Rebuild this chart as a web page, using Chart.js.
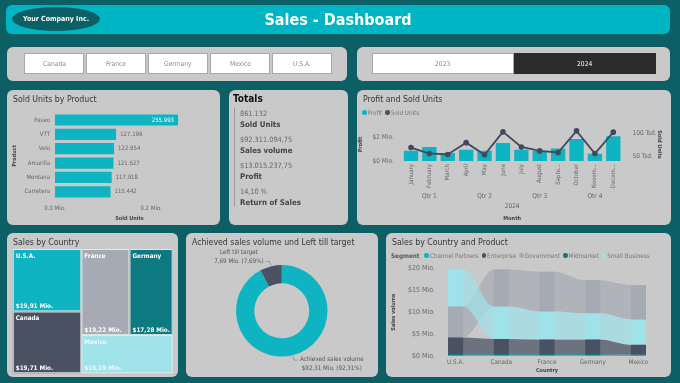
<!DOCTYPE html>
<html>
<head>
<meta charset="utf-8">
<script src="https://cdn.jsdelivr.net/npm/chart.js@4.4.0/dist/chart.umd.min.js"></script>
<style>
  body { margin: 0; width: 680px; height: 383px; background: #0c5f64; overflow: hidden; position: relative;
         font-family: "DejaVu Sans Condensed", "DejaVu Sans", sans-serif; }
  .box { position: absolute; background: #c9c9c9; border-radius: 6px; overflow: hidden; }
  .ttl { position: absolute; left: 5.5px; top: 4px; line-height: 10px; font-size: 8.7px; color: #363636; white-space: nowrap; z-index: 2; will-change: transform; }
  .cv { position: absolute; left: 0; top: 0; right: 0; bottom: 0; }
  .btn { position: absolute; top: 6px; height: 21px; background: #fff; border: 1.5px solid #a8a8a8; box-sizing: border-box;
         font-size: 6.7px; color: #8a8a8a; display: flex; align-items: center; justify-content: center; }
  .btn span, .gs { will-change: transform; }
  .lg { position: absolute; display: flex; align-items: center; font-size: 6.3px; color: #777; white-space: nowrap; z-index: 2; will-change: transform; }
  .lg i { display: inline-block; width: 4.5px; height: 4.5px; border-radius: 50%; margin: 0 1px 0 3px; }
  .tot { position: absolute; left: 11px; font-size: 7.3px; color: #666; white-space: nowrap; will-change: transform; }
  .totb { position: absolute; left: 11px; font-size: 7.8px; color: #444; font-weight: bold; white-space: nowrap; will-change: transform; }
</style>
</head>
<body>

<div class="box" style="left:6px;top:5px;width:664px;height:29px;background:#00b5c3;">
  <div style="position:absolute;left:6px;top:2px;width:88px;height:24px;border-radius:50%;background:#0c5f64;color:#fff;font-size:7px;font-weight:bold;display:flex;align-items:center;justify-content:center;"><span class="gs">Your Company Inc.</span></div>
  <div class="gs" style="position:absolute;left:0;right:0;top:0;height:29px;line-height:29px;text-align:center;color:#fff;font-size:16px;font-weight:bold;">Sales - Dashboard</div>
</div>

<div class="box" id="slCountry" style="left:7px;top:47px;width:340px;height:34px;"></div>
<div class="box" id="slYear" style="left:357px;top:47px;width:313px;height:34px;"></div>

<div class="box" style="left:7px;top:90px;width:213px;height:135px;">
  <div class="ttl">Sold Units by Product</div>
  <div class="cv"><canvas id="cUnits"></canvas></div>
</div>

<div class="box" id="totals" style="left:229px;top:90px;width:119px;height:135px;">
  <div class="gs" style="position:absolute;left:4px;top:3px;font-size:10px;font-weight:bold;color:#111;line-height:12px;">Totals</div>
  <div style="position:absolute;left:5px;top:18px;width:1px;height:99px;background:#9a9a9a;"></div>
</div>

<div class="box" style="left:357px;top:90px;width:314px;height:135px;">
  <div class="ttl">Profit and Sold Units</div>
  <div class="lg" id="lgProfit" style="left:2px;top:18px;height:9px;"></div>
  <div class="cv"><canvas id="cProfit"></canvas></div>
</div>

<div class="box" style="left:7px;top:233px;width:171px;height:144px;">
  <div class="ttl">Sales by Country</div>
  <div class="cv"><canvas id="cTree"></canvas></div>
</div>

<div class="box" style="left:186px;top:233px;width:192px;height:144px;">
  <div class="ttl">Achieved sales volume und Left till target</div>
  <div class="cv"><canvas id="cDonut"></canvas></div>
</div>

<div class="box" style="left:386px;top:233px;width:285px;height:144px;">
  <div class="ttl">Sales by Country and Product</div>
  <div class="lg" id="lgSeg" style="left:5px;top:18px;height:9px;"></div>
  <div class="cv"><canvas id="cRibbon"></canvas></div>
</div>

<script>
// ---- data ----
const countries = ['U.S.A.', 'Canada', 'France', 'Germany', 'Mexico'];
const years = ['2023', '2024'];
const selectedYear = '2024';

const products = ['Paseo', 'VTT', 'Velo', 'Amarilla', 'Montana', 'Carretera'];
const soldUnitsByProduct = [255993, 127199, 122954, 121627, 117918, 115442];
const unitsAxisTicks = [0, 200000];

const totalLabels = ['Sold Units', 'Sales volume', 'Profit', 'Return of Sales'];
const totalValues = ['861.132', '$92.311.094,75', '$13.015.237,75', '14,10 %'];

const months = ['January', 'February', 'March', 'April', 'May', 'June', 'July', 'August', 'Septe...', 'October', 'Novem...', 'Decem...'];
const quarters = ['Qtr 1', 'Qtr 2', 'Qtr 3', 'Qtr 4'];
const profitByMonth = [870000, 1180000, 680000, 960000, 870000, 1520000, 960000, 850000, 1070000, 1860000, 620000, 2110000];
const unitsByMonth = [69300, 56400, 54300, 80000, 53600, 103600, 70700, 62000, 58600, 105700, 56400, 102900];
const profitTicks = [0, 2000000];
const unitTicks = [50000, 100000];

// Mio. $, same order as countries
const salesByCountry = [19.91, 19.71, 19.22, 17.28, 16.19];

const achievedSales = 92.31;
const leftTillTarget = 7.69;

const segments = ['Channel Partners', 'Enterprise', 'Government', 'Midmarket', 'Small Business'];
const segChannelPartners = [0.20, 0.20, 0.20, 0.20, 0.15];
const segEnterprise      = [3.75, 3.40, 3.30, 3.30, 2.20];
const segGovernment      = [7.10, 8.41, 9.07, 7.53, 7.84];
const segMidmarket       = [0.25, 0.25, 0.25, 0.25, 0.20];
const segSmallBusiness   = [8.60, 7.45, 6.40, 6.00, 5.80];
const ribbonTicks = [0, 5, 10, 15, 20];

// ---- colours ----
const cyan = '#0fb4c3';
const slate = '#4a5163';
const grayc = '#a6aab4';
const teal = '#0d7a82';
const light = '#9fe2e9';
const segColors = [cyan, slate, grayc, teal, light];
const treeColors = [cyan, slate, grayc, teal, light];

Chart.defaults.font.family = '"DejaVu Sans Condensed", "DejaVu Sans", sans-serif';
Chart.defaults.font.size = 6;
Chart.defaults.color = '#666';

function dots(v) { return String(Math.round(v)).replace(/\B(?=(\d{3})+(?!\d))/g, '.'); }
function mio(v) { return '$' + v.toFixed(2).replace('.', ',') + ' Mio.'; }
function noGrid() { return { display: false, drawTicks: false }; }

// ---- slicers ----
const slC = document.getElementById('slCountry');
countries.slice().sort().forEach((c, i) => {
  const b = document.createElement('div');
  b.className = 'btn';
  b.style.left = (17 + i * 62) + 'px';
  b.style.width = '60px';
  b.innerHTML = '<span>' + c + '</span>';
  slC.appendChild(b);
});
const slY = document.getElementById('slYear');
years.forEach((y, i) => {
  const b = document.createElement('div');
  b.className = 'btn';
  b.style.left = (15 + i * 142) + 'px';
  b.style.width = '142px';
  b.innerHTML = '<span>' + y + '</span>';
  if (y === selectedYear) { b.style.background = '#2b2b2b'; b.style.color = '#fff'; b.style.borderColor = '#2b2b2b'; }
  slY.appendChild(b);
});

// ---- totals ----
const tot = document.getElementById('totals');
totalLabels.forEach((t, i) => {
  const v = document.createElement('div');
  v.className = 'tot'; v.style.top = (19 + i * 26) + 'px'; v.textContent = totalValues[i];
  const l = document.createElement('div');
  l.className = 'totb'; l.style.top = (29.5 + i * 26) + 'px'; l.textContent = t;
  tot.appendChild(v); tot.appendChild(l);
});

// ---- legends ----
document.getElementById('lgProfit').innerHTML =
  '<i style="background:' + cyan + '"></i>Profit<i style="background:' + slate + '"></i>Sold Units';
document.getElementById('lgSeg').innerHTML = '<b style="color:#555;margin-right:2px">Segment</b>' +
  segments.map((s, i) => '<i style="background:' + segColors[i] + '"></i>' + s).join('');

// ---- sold units by product ----
const barLabels = {
  id: 'barLabels',
  afterDatasetsDraw(chart) {
    const ctx = chart.ctx;
    ctx.save();
    ctx.font = '6px "DejaVu Sans Condensed"';
    ctx.textBaseline = 'middle';
    chart.getDatasetMeta(0).data.forEach((bar, i) => {
      const txt = dots(soldUnitsByProduct[i]);
      if (bar.x - bar.base > 90) {
        ctx.fillStyle = '#fff'; ctx.textAlign = 'right'; ctx.fillText(txt, bar.x - 4, bar.y);
      } else {
        ctx.fillStyle = '#666'; ctx.textAlign = 'left'; ctx.fillText(txt, bar.x + 4, bar.y);
      }
    });
    ctx.restore();
  }
};

new Chart(document.getElementById('cUnits'), {
  type: 'bar',
  data: { labels: products, datasets: [{ data: soldUnitsByProduct, backgroundColor: cyan, barPercentage: 0.78, categoryPercentage: 1 }] },
  options: {
    indexAxis: 'y', animation: false, responsive: true, maintainAspectRatio: false,
    layout: { padding: { left: 4, right: 16, top: 22.8, bottom: 3 } },
    plugins: { legend: { display: false }, tooltip: { enabled: false } },
    scales: {
      x: {
        min: 0, max: 310000, grid: noGrid(), border: { display: false },
        afterBuildTicks(s) { s.ticks = unitsAxisTicks.map(v => ({ value: v })); },
        ticks: { padding: 6, callback: v => (v / 1e6).toFixed(1) + ' Mio.' },
        title: { display: true, text: 'Sold Units', font: { size: 5.5, weight: 'bold' }, color: '#444', padding: 0 },
        afterFit(s) { s.height = 23; }
      },
      y: {
        grid: noGrid(), border: { display: false },
        ticks: { padding: 5 },
        title: { display: true, text: 'Product', font: { size: 5.5, weight: 'bold' }, color: '#444', padding: 0 },
        afterFit(s) { s.width = 44; }
      }
    }
  },
  plugins: [barLabels]
});

// ---- profit and sold units ----
new Chart(document.getElementById('cProfit'), {
  type: 'bar',
  data: {
    labels: months,
    datasets: [
      { type: 'line', label: 'Sold Units', data: unitsByMonth, yAxisID: 'y2', borderColor: '#414a5c', backgroundColor: '#414a5c',
        borderWidth: 1.8, pointRadius: 2.8, pointBorderWidth: 0, order: 0 },
      { label: 'Profit', data: profitByMonth, yAxisID: 'y', backgroundColor: cyan, barPercentage: 0.78, categoryPercentage: 1, order: 1 }
    ]
  },
  options: {
    animation: false, responsive: true, maintainAspectRatio: false,
    layout: { padding: { left: 0, right: 8.5, top: 38, bottom: 3 } },
    plugins: { legend: { display: false }, tooltip: { enabled: false } },
    scales: {
      x: { position: 'bottom', weight: 0, grid: noGrid(), border: { display: false },
           ticks: { minRotation: 90, maxRotation: 90, autoSkip: false, padding: 3 },
           afterFit(s) { s.height = 31; } },
      xq: { type: 'category', labels: quarters, offset: true, position: 'bottom', weight: 1, grid: noGrid(), border: { display: false },
            ticks: { padding: 0, font: { size: 6.5 } }, afterFit(s) { s.height = 10; } },
      xy: { type: 'category', labels: [selectedYear], offset: true, position: 'bottom', weight: 2, grid: noGrid(), border: { display: false },
            ticks: { padding: 0, font: { size: 6.5 } },
            title: { display: true, text: 'Month', font: { size: 5.5, weight: 'bold' }, color: '#444', padding: 0 },
            afterFit(s) { s.height = 20; } },
      y: { position: 'left', min: 0, max: 2800000, grid: noGrid(), border: { display: false },
           afterBuildTicks(s) { s.ticks = profitTicks.map(v => ({ value: v })); },
           ticks: { padding: 8, font: { size: 6.5 }, callback: v => '$' + (v / 1e6) + ' Mio.' },
           title: { display: true, text: 'Profit', font: { size: 5.5, weight: 'bold' }, color: '#444', padding: 0 },
           afterFit(s) { s.width = 44.8; } },
      y2: { position: 'right', min: 40000, max: 112000, grid: noGrid(), border: { display: false },
            afterBuildTicks(s) { s.ticks = unitTicks.map(v => ({ value: v })); },
            ticks: { padding: 10, font: { size: 6.5 }, callback: v => (v / 1000) + ' Tsd.' },
            title: { display: true, text: 'Sold Units', font: { size: 5.5, weight: 'bold' }, color: '#444', padding: 0 },
            afterFit(s) { s.width = 40; } }
    }
  }
});

// ---- treemap (sales by country) ----
function treeCells(v) {
  const total = v.reduce((a, b) => a + b, 0);
  const lw = (v[0] + v[1]) / total;
  const h0 = v[0] / (v[0] + v[1]);
  const th = (v[2] + v[3]) / (v[2] + v[3] + v[4]);
  const fw = lw + (1 - lw) * v[2] / (v[2] + v[3]);
  return [
    [0, lw, 0, h0], [0, lw, h0, 1], [lw, fw, 0, th], [fw, 1, 0, th], [lw, 1, th, 1]
  ];
}
const treePlugin = {
  id: 'tree',
  afterDatasetsDraw(chart) {
    const { ctx, scales: { x, y } } = chart;
    ctx.save();
    treeCells(salesByCountry).forEach((c, i) => {
      const x0 = x.getPixelForValue(c[0]), x1 = x.getPixelForValue(c[1]);
      const y0 = y.getPixelForValue(c[2]), y1 = y.getPixelForValue(c[3]);
      ctx.fillStyle = treeColors[i];
      ctx.fillRect(x0, y0, x1 - x0, y1 - y0);
      ctx.strokeStyle = '#e8e8e8'; ctx.lineWidth = 1;
      ctx.strokeRect(x0 + 0.5, y0 + 0.5, x1 - x0 - 1, y1 - y0 - 1);
      ctx.fillStyle = i === 4 ? '#eefbfc' : '#fff';
      ctx.font = 'bold 6.3px "DejaVu Sans Condensed"';
      ctx.textAlign = 'left'; ctx.textBaseline = 'middle';
      ctx.fillText(countries[i], x0 + 3, y0 + 7);
      ctx.fillText(mio(salesByCountry[i]), x0 + 3, y1 - 5);
    });
    ctx.restore();
  }
};
new Chart(document.getElementById('cTree'), {
  type: 'scatter',
  data: { datasets: [{ data: [] }] },
  options: {
    animation: false, responsive: true, maintainAspectRatio: false,
    layout: { padding: { left: 5.7, right: 5.3, top: 16, bottom: 3.7 } },
    plugins: { legend: { display: false }, tooltip: { enabled: false } },
    scales: { x: { display: false, min: 0, max: 1 }, y: { display: false, min: 0, max: 1, reverse: true } }
  },
  plugins: [treePlugin]
});

// ---- donut ----
const donutLabels = {
  id: 'donutLabels',
  afterDatasetsDraw(chart) {
    const ctx = chart.ctx;
    const texts = [
      ['Achieved sales volume', mio(achievedSales) + ' (' + achievedSales.toFixed(2).replace('.', ',') + '%)'],
      ['Left till target', leftTillTarget.toFixed(2).replace('.', ',') + ' Mio. (' + leftTillTarget.toFixed(2).replace('.', ',') + '%)']
    ];
    ctx.save();
    ctx.font = '6.2px "DejaVu Sans Condensed"';
    ctx.textBaseline = 'middle';
    chart.getDatasetMeta(0).data.forEach((arc, i) => {
      const mid = (arc.startAngle + arc.endAngle) / 2;
      const cs = Math.cos(mid), sn = Math.sin(mid);
      const px = arc.x + cs * (arc.outerRadius + 1), py = arc.y + sn * (arc.outerRadius + 1);
      const ex = px + cs * 4, ey = py + sn * 4;
      const dir = cs >= 0 ? 1 : -1;
      const hx = ex + dir * 4;
      ctx.strokeStyle = '#888'; ctx.lineWidth = 0.7;
      ctx.beginPath(); ctx.moveTo(px, py); ctx.lineTo(ex, ey); ctx.lineTo(hx, ey); ctx.stroke();
      const w = Math.max(...texts[i].map(t => ctx.measureText(t).width));
      const cx = hx + dir * (2 + w / 2);
      const l1 = sn < 0 ? ey - 9 : ey - 1;
      ctx.fillStyle = '#555'; ctx.textAlign = 'center';
      ctx.fillText(texts[i][0], cx, l1);
      ctx.fillText(texts[i][1], cx, l1 + 9);
    });
    ctx.restore();
  }
};
new Chart(document.getElementById('cDonut'), {
  type: 'doughnut',
  data: { labels: ['Achieved sales volume', 'Left till target'],
          datasets: [{ data: [achievedSales, leftTillTarget], backgroundColor: [cyan, slate], borderWidth: 0 }] },
  options: {
    animation: false, responsive: true, maintainAspectRatio: false, cutout: '60%',
    layout: { padding: { left: 50, right: 50.5, top: 32, bottom: 20.4 } },
    plugins: { legend: { display: false }, tooltip: { enabled: false } }
  },
  plugins: [donutLabels]
});

// ---- ribbon chart (sales by country and product) ----
const segValues = [segChannelPartners, segEnterprise, segGovernment, segMidmarket, segSmallBusiness];
const lo = segValues.map(() => []), hi = segValues.map(() => []);
countries.forEach((c, i) => {
  const order = segValues.map((v, s) => s).sort((a, b) => segValues[a][i] - segValues[b][i]);
  let acc = 0;
  order.forEach(s => { lo[s][i] = acc; acc += segValues[s][i]; hi[s][i] = acc; });
});
const hw = 0.165;
function edgePoints(arr) {
  const pts = [];
  arr.forEach((v, i) => { pts.push({ x: i - hw, y: v }); pts.push({ x: i + hw, y: v }); });
  return pts;
}
function alpha(hex, a) {
  const n = parseInt(hex.slice(1), 16);
  return 'rgba(' + (n >> 16) + ',' + ((n >> 8) & 255) + ',' + (n & 255) + ',' + a + ')';
}
const ribbonSets = [];
const ribbonDraw = [4, 2, 1, 3, 0];
ribbonDraw.forEach(s => {
  ribbonSets.push({ type: 'line', data: edgePoints(lo[s]), borderWidth: 0, pointRadius: 0, fill: false,
                    cubicInterpolationMode: 'monotone', order: 1 });
  ribbonSets.push({ type: 'line', data: edgePoints(hi[s]), borderWidth: 0, pointRadius: 0, fill: '-1',
                    backgroundColor: alpha(segColors[s], 0.72), cubicInterpolationMode: 'monotone', order: 1 });
});
segValues.forEach((v, s) => {
  ribbonSets.push({ type: 'bar', data: countries.map((c, i) => ({ x: i, y: [lo[s][i], hi[s][i]] })),
                    backgroundColor: segColors[s], grouped: false, barPercentage: 0.33, categoryPercentage: 1, order: 0 });
});
new Chart(document.getElementById('cRibbon'), {
  type: 'bar',
  data: { datasets: ribbonSets },
  options: {
    animation: false, responsive: true, maintainAspectRatio: false,
    layout: { padding: { left: 4, right: 25, top: 35.3, bottom: 3 } },
    plugins: { legend: { display: false }, tooltip: { enabled: false } },
    scales: {
      x: { type: 'linear', offset: false, min: -hw, max: countries.length - 1 + hw, grid: noGrid(), border: { display: false },
           afterBuildTicks(s) { s.ticks = countries.map((c, i) => ({ value: i })); },
           ticks: { padding: 3, font: { size: 6.3 }, callback: v => countries[v] },
           title: { display: true, text: 'Country', font: { size: 5.5, weight: 'bold' }, color: '#444', padding: 0 },
           afterFit(s) { s.height = 18; } },
      y: { min: 0, max: 20, grid: noGrid(), border: { display: false },
           afterBuildTicks(s) { s.ticks = ribbonTicks.map(v => ({ value: v })); },
           ticks: { padding: 13, font: { size: 7 }, callback: v => '$' + v + ' Mio.' },
           title: { display: true, text: 'Sales volume', font: { size: 5.5, weight: 'bold' }, color: '#444', padding: 0 },
           afterFit(s) { s.width = 58; } }
    }
  }
});
</script>
</body>
</html>
